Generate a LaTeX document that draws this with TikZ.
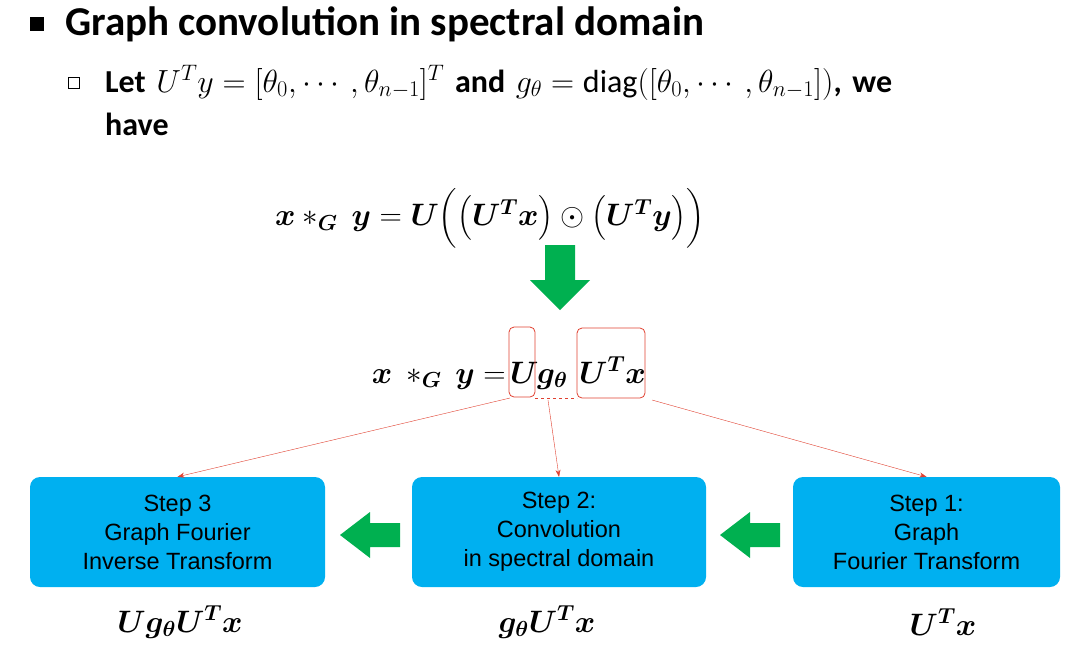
\RequirePackage{fix-cm}
\documentclass[tikz,border=0pt]{standalone}
\usepackage{amsmath,bm}
\usepackage{fontspec}
\setmainfont{Carlito}
\newfontfamily\boxfont{Liberation Sans}
\usetikzlibrary{arrows.meta}
\definecolor{boxblue}{HTML}{00B0F0}
\definecolor{arrgreen}{HTML}{00B050}
\definecolor{lred}{HTML}{E04030}
\begin{document}
\begin{tikzpicture}[x=1pt,y=-1pt,
  stepbox/.style={draw=none,fill=boxblue,rounded corners=10pt,minimum width=#1,minimum height=110pt,align=center,font=\boxfont\fontsize{23.5}{29}\selectfont},
  redbox/.style={draw=lred,thick,rounded corners=5pt,inner sep=0pt},
  conn/.style={lred,-{Stealth[length=7pt,width=5pt]}},
  eq/.style={font=\fontsize{31}{34}\selectfont,inner sep=0pt},
  greenarrow/.style={fill=arrgreen,draw=none}]
\useasboundingbox (0,0) rectangle (1073,649);
% title
\fill (30,17) rectangle (44,31);
\node[anchor=base west,font=\bfseries\fontsize{41}{44}\selectfont,inner sep=0pt] (title) at (65,35) {Graph convolution in spectral domain};
\draw[thick] (68.5,77.5) rectangle (79.5,88.5);
\node[anchor=base west,font=\bfseries\fontsize{32}{43}\selectfont,inner sep=0pt,align=left,text width=960pt] (sub) at (105,92) {Let $U^{T}y=[\theta_0,\cdots,\theta_{n-1}]^{T}$ and $g_\theta=\mathrm{diag}([\theta_0,\cdots,\theta_{n-1}])$, we\\ have};
% eq1
\node[eq] (eq1) at (490,218) {$\bm{x} \ast_{\bm G}\ \bm{y}=\bm{U}\Big(\big(\bm{U}^{\bm T}\bm{x}\big)\odot\big(\bm{U}^{\bm T}\bm{y}\big)\Big)$};
% green down arrow
\fill[greenarrow] (545,245) -- (575,245) -- (575,280) -- (590,280) -- (560,310) -- (530,280) -- (545,280) -- cycle;
% eq2
\node[eq,anchor=base east] (lhs) at (506,383) {$\bm{x}\ \ast_{\bm G}\ \bm{y}=$};
\node[eq,anchor=base west] (U) at (510,383) {$\bm{U}$};
\node[eq,anchor=base west] (g) at (537,383) {$\bm{g}_{\bm\theta}$};
\node[eq,anchor=base west] (UTx) at (579,383) {$\bm{U}^{\bm T}\bm{x}$};
\draw[redbox] (509,327) rectangle (535,397);
\draw[redbox] (577,328) rectangle (645,398);
\draw[lred,dashed] (535,398) -- (577,398);
\coordinate (sU) at (510,398);
\coordinate (sg) at (548,400);
\coordinate (sx) at (652,400);
% boxes
\node[stepbox=295pt] (b3) at (177.5,532) {Step 3\\Graph Fourier\\Inverse Transform};
\node[stepbox=294pt] (b2) at (559,532) {Step 2:\\Convolution\\in spectral domain};
\node[stepbox=267pt] (b1) at (926.5,532) {Step 1:\\Graph\\Fourier Transform};
\draw[conn] (sU) -- (b3.north);
\draw[conn] (sg) -- (b2.north);
\draw[conn] (sx) -- (b1.north);
% green left arrows
\fill[greenarrow] (400,523) -- (370,523) -- (370,512) -- (340,535) -- (370,558) -- (370,547) -- (400,547) -- cycle;
\fill[greenarrow] (780,523) -- (750,523) -- (750,512) -- (720,535) -- (750,558) -- (750,547) -- (780,547) -- cycle;
% bottom labels
\node[eq] (l3) at (180,622) {$\bm{U}\bm{g}_{\bm\theta}\bm{U}^{\bm T}\bm{x}$};
\node[eq] (l2) at (547,622) {$\bm{g}_{\bm\theta}\bm{U}^{\bm T}\bm{x}$};
\node[eq] (l1) at (943,622) {$\bm{U}^{\bm T}\bm{x}$};
\end{tikzpicture}
\end{document}
